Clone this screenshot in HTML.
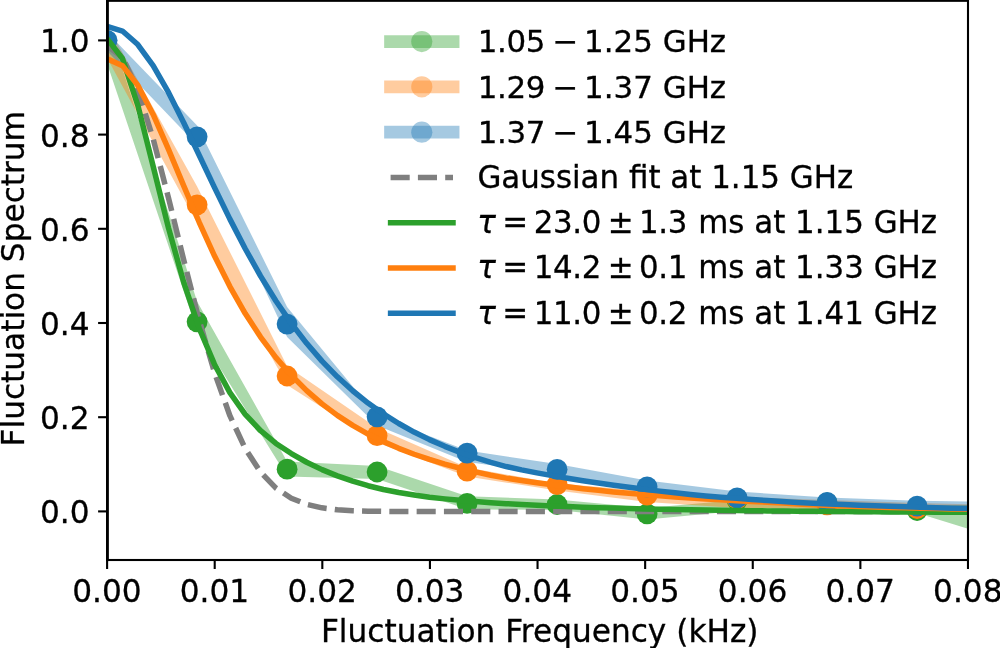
<!DOCTYPE html>
<html><head><meta charset="utf-8"><title>Fluctuation Spectrum</title>
<style>text{stroke:#000;stroke-width:0.3px}html,body{margin:0;padding:0;background:#fff;width:1000px;height:648px;overflow:hidden}</style></head>
<body>
<svg width="1000" height="648" viewBox="0 0 1000 648" style="display:block;position:absolute;left:0;top:0" font-family="'DejaVu Sans', 'Liberation Sans', sans-serif" font-size="31.4" fill="#000" stroke="none">
<rect width="1000" height="648" fill="#fff"/>
<defs><clipPath id="ax"><rect x="107.1" y="0.8" width="860.9" height="559.2"/></clipPath></defs>
<g clip-path="url(#ax)">
<polygon points="107.10,21.00 197.10,301.50 287.10,461.50 377.10,466.00 467.10,496.30 557.10,499.50 647.10,508.00 737.10,500.00 827.10,504.00 917.10,505.00 1007.10,505.00 1007.10,540.70 917.10,513.00 827.10,512.00 737.10,511.00 647.10,519.50 557.10,510.00 467.10,509.30 377.10,479.00 287.10,476.50 197.10,331.00 107.10,63.50" fill="#2ca02c" fill-opacity="0.4"/>
<polygon points="107.10,25.00 197.10,186.50 287.10,366.20 377.10,428.00 467.10,467.50 557.10,483.50 647.10,491.00 737.10,497.00 827.10,500.00 917.10,503.00 1007.10,505.00 1007.10,512.00 917.10,511.00 827.10,509.00 737.10,508.00 647.10,502.00 557.10,490.50 467.10,476.50 377.10,442.50 287.10,385.00 197.10,223.00 107.10,58.00" fill="#ff7f0e" fill-opacity="0.4"/>
<polygon points="107.10,32.30 197.10,125.50 287.10,307.00 377.10,416.00 467.10,450.50 557.10,464.00 647.10,480.50 737.10,491.50 827.10,497.50 917.10,500.80 1007.10,502.00 1007.10,510.00 917.10,508.00 827.10,505.00 737.10,501.00 647.10,492.00 557.10,474.00 467.10,462.00 377.10,425.50 287.10,337.00 197.10,145.00 107.10,51.00" fill="#1f77b4" fill-opacity="0.4"/>
<circle cx="197.1" cy="321.8" r="10.4" fill="#2ca02c"/>
<circle cx="287.1" cy="469.2" r="10.4" fill="#2ca02c"/>
<circle cx="377.1" cy="472.0" r="10.4" fill="#2ca02c"/>
<circle cx="467.1" cy="503.3" r="10.4" fill="#2ca02c"/>
<circle cx="557.1" cy="504.5" r="10.4" fill="#2ca02c"/>
<circle cx="647.1" cy="513.9" r="10.4" fill="#2ca02c"/>
<circle cx="737.1" cy="500.5" r="10.4" fill="#2ca02c"/>
<circle cx="827.1" cy="503.0" r="10.4" fill="#2ca02c"/>
<circle cx="917.1" cy="510.5" r="10.4" fill="#2ca02c"/>
<circle cx="197.1" cy="204.8" r="10.4" fill="#ff7f0e"/>
<circle cx="287.1" cy="376.0" r="10.4" fill="#ff7f0e"/>
<circle cx="377.1" cy="435.7" r="10.4" fill="#ff7f0e"/>
<circle cx="467.1" cy="471.2" r="10.4" fill="#ff7f0e"/>
<circle cx="557.1" cy="484.6" r="10.4" fill="#ff7f0e"/>
<circle cx="647.1" cy="495.2" r="10.4" fill="#ff7f0e"/>
<circle cx="737.1" cy="498.9" r="10.4" fill="#ff7f0e"/>
<circle cx="827.1" cy="504.8" r="10.4" fill="#ff7f0e"/>
<circle cx="917.1" cy="508.5" r="10.4" fill="#ff7f0e"/>
<circle cx="107.1" cy="40.3" r="10.4" fill="#1f77b4"/>
<circle cx="197.1" cy="136.8" r="10.4" fill="#1f77b4"/>
<circle cx="287.1" cy="324.1" r="10.4" fill="#1f77b4"/>
<circle cx="377.1" cy="416.8" r="10.4" fill="#1f77b4"/>
<circle cx="467.1" cy="453.2" r="10.4" fill="#1f77b4"/>
<circle cx="557.1" cy="469.4" r="10.4" fill="#1f77b4"/>
<circle cx="647.1" cy="486.8" r="10.4" fill="#1f77b4"/>
<circle cx="737.1" cy="497.8" r="10.4" fill="#1f77b4"/>
<circle cx="827.1" cy="502.4" r="10.4" fill="#1f77b4"/>
<circle cx="917.1" cy="506.2" r="10.4" fill="#1f77b4"/>
<polyline points="107.10,45.94 122.45,57.30 137.80,89.74 153.15,138.75 168.50,197.94 183.85,260.45 199.20,320.19 214.55,372.74 229.90,415.71 245.25,448.57 260.60,472.15 275.95,488.09 291.30,498.24 306.65,504.36 322.00,507.85 337.35,509.73 352.70,510.69 368.05,511.15 383.40,511.37 398.75,511.46 414.10,511.50 429.45,511.52 444.80,511.52 460.15,511.52 475.50,511.52 490.85,511.52 506.20,511.52 521.55,511.52 536.90,511.52 552.25,511.52 567.60,511.52 582.95,511.52 598.30,511.52 613.65,511.52 629.00,511.52 644.35,511.52 659.70,511.52 675.05,511.52 690.40,511.52 705.75,511.52 721.10,511.52 736.45,511.52 751.80,511.52 767.15,511.52 782.50,511.52 797.85,511.52 813.20,511.52 828.55,511.52 843.90,511.52 859.25,511.52 874.60,511.52 889.95,511.52 905.30,511.52 920.65,511.52 936.00,511.52 951.35,511.52 966.70,511.52 982.05,511.52" fill="none" stroke="#7f7f7f" stroke-width="5.5" stroke-dasharray="19.1 8.2" stroke-dashoffset="2" stroke-linejoin="round"/>
<polyline points="107.10,38.58 122.45,58.55 137.80,105.27 153.15,166.25 168.50,228.03 183.85,282.87 199.20,328.22 214.55,364.35 229.90,392.68 245.25,414.45 260.60,430.74 275.95,443.44 291.30,453.56 306.65,462.24 322.00,469.61 337.35,475.87 352.70,481.19 368.05,485.72 383.40,489.52 398.75,492.47 414.10,495.00 429.45,497.19 444.80,498.88 460.15,500.33 475.50,501.58 490.85,502.67 506.20,503.65 521.55,504.52 536.90,505.30 552.25,506.00 567.60,506.61 582.95,507.17 598.30,507.66 613.65,508.11 629.00,508.52 644.35,508.88 659.70,509.22 675.05,509.52 690.40,509.80 705.75,510.05 721.10,510.29 736.45,510.50 751.80,510.70 767.15,510.88 782.50,511.05 797.85,511.20 813.20,511.35 828.55,511.48 843.90,511.61 859.25,511.72 874.60,511.83 889.95,511.93 905.30,512.03 920.65,512.12 936.00,512.20 951.35,512.28 966.70,512.35 982.05,512.42" fill="none" stroke="#2ca02c" stroke-width="5.5" stroke-linejoin="round"/>
<polyline points="107.10,58.73 122.45,65.67 137.80,85.29 153.15,114.48 168.50,149.31 183.85,186.15 199.20,222.29 214.55,256.03 229.90,286.52 245.25,313.52 260.60,337.12 275.95,357.60 291.30,375.32 306.65,390.63 322.00,403.87 337.35,415.34 352.70,425.32 368.05,434.02 383.40,441.64 398.75,448.33 414.10,454.23 429.45,459.45 444.80,464.09 460.15,468.22 475.50,471.92 490.85,475.24 506.20,478.12 521.55,480.56 536.90,482.74 552.25,484.79 567.60,486.81 582.95,488.66 598.30,490.35 613.65,491.90 629.00,493.32 644.35,494.63 659.70,495.84 675.05,496.96 690.40,498.00 705.75,498.97 721.10,499.86 736.45,500.70 751.80,501.47 767.15,502.20 782.50,503.05 797.85,503.89 813.20,504.69 828.55,505.46 843.90,506.00 859.25,506.50 874.60,506.97 889.95,507.41 905.30,507.83 920.65,508.22 936.00,508.60 951.35,508.95 966.70,509.29 982.05,509.61" fill="none" stroke="#ff7f0e" stroke-width="5.5" stroke-linejoin="round"/>
<polyline points="107.10,26.38 122.45,31.04 137.80,44.56 153.15,65.64 168.50,92.45 183.85,122.95 199.20,155.22 214.55,187.67 229.90,219.11 245.25,248.73 260.60,276.07 275.95,300.95 291.30,323.33 306.65,343.32 322.00,361.09 337.35,376.82 352.70,390.74 368.05,403.03 383.40,413.91 398.75,423.52 414.10,432.04 429.45,439.61 444.80,446.33 460.15,452.32 475.50,457.67 490.85,462.46 506.20,466.54 521.55,469.88 536.90,472.83 552.25,475.59 567.60,478.31 582.95,480.77 598.30,483.01 613.65,485.27 629.00,487.34 644.35,489.25 659.70,491.11 675.05,492.85 690.40,494.48 705.75,495.91 721.10,497.17 736.45,498.35 751.80,499.46 767.15,500.53 782.50,501.54 797.85,502.49 813.20,503.26 828.55,503.95 843.90,504.60 859.25,505.21 874.60,505.78 889.95,506.31 905.30,506.81 920.65,507.28 936.00,507.72 951.35,508.13 966.70,508.52 982.05,508.89" fill="none" stroke="#1f77b4" stroke-width="5.5" stroke-linejoin="round"/>
</g>
<rect x="107.1" y="0.8" width="860.9" height="559.2" fill="none" stroke="#000" stroke-width="2.1"/>
<rect x="106.05" y="0" width="2.8" height="561.05" fill="#000"/>
<line x1="107.10" y1="560.0" x2="107.10" y2="569.0" stroke="#000" stroke-width="2.1"/>
<text x="106.90" y="601.9" transform="matrix(1 0 0 1.022 0 -13.242)" text-anchor="middle" font-size="31.2">0.00</text>
<line x1="214.71" y1="560.0" x2="214.71" y2="569.0" stroke="#000" stroke-width="2.1"/>
<text x="214.51" y="601.9" transform="matrix(1 0 0 1.022 0 -13.242)" text-anchor="middle" font-size="31.2">0.01</text>
<line x1="322.32" y1="560.0" x2="322.32" y2="569.0" stroke="#000" stroke-width="2.1"/>
<text x="322.12" y="601.9" transform="matrix(1 0 0 1.022 0 -13.242)" text-anchor="middle" font-size="31.2">0.02</text>
<line x1="429.93" y1="560.0" x2="429.93" y2="569.0" stroke="#000" stroke-width="2.1"/>
<text x="429.73" y="601.9" transform="matrix(1 0 0 1.022 0 -13.242)" text-anchor="middle" font-size="31.2">0.03</text>
<line x1="537.54" y1="560.0" x2="537.54" y2="569.0" stroke="#000" stroke-width="2.1"/>
<text x="537.34" y="601.9" transform="matrix(1 0 0 1.022 0 -13.242)" text-anchor="middle" font-size="31.2">0.04</text>
<line x1="645.15" y1="560.0" x2="645.15" y2="569.0" stroke="#000" stroke-width="2.1"/>
<text x="644.95" y="601.9" transform="matrix(1 0 0 1.022 0 -13.242)" text-anchor="middle" font-size="31.2">0.05</text>
<line x1="752.76" y1="560.0" x2="752.76" y2="569.0" stroke="#000" stroke-width="2.1"/>
<text x="752.56" y="601.9" transform="matrix(1 0 0 1.022 0 -13.242)" text-anchor="middle" font-size="31.2">0.06</text>
<line x1="860.37" y1="560.0" x2="860.37" y2="569.0" stroke="#000" stroke-width="2.1"/>
<text x="860.17" y="601.9" transform="matrix(1 0 0 1.022 0 -13.242)" text-anchor="middle" font-size="31.2">0.07</text>
<line x1="967.98" y1="560.0" x2="967.98" y2="569.0" stroke="#000" stroke-width="2.1"/>
<text x="967.78" y="601.9" transform="matrix(1 0 0 1.022 0 -13.242)" text-anchor="middle" font-size="31.2">0.08</text>
<line x1="107.1" y1="511.40" x2="98.1" y2="511.40" stroke="#000" stroke-width="2.1"/>
<text x="89.6" y="523.50" transform="matrix(1 0 0 1.022 0 -11.517)" text-anchor="end" font-size="31.2">0.0</text>
<line x1="107.1" y1="417.20" x2="98.1" y2="417.20" stroke="#000" stroke-width="2.1"/>
<text x="89.6" y="429.30" transform="matrix(1 0 0 1.022 0 -9.445)" text-anchor="end" font-size="31.2">0.2</text>
<line x1="107.1" y1="323.00" x2="98.1" y2="323.00" stroke="#000" stroke-width="2.1"/>
<text x="89.6" y="335.10" transform="matrix(1 0 0 1.022 0 -7.372)" text-anchor="end" font-size="31.2">0.4</text>
<line x1="107.1" y1="228.80" x2="98.1" y2="228.80" stroke="#000" stroke-width="2.1"/>
<text x="89.6" y="240.90" transform="matrix(1 0 0 1.022 0 -5.300)" text-anchor="end" font-size="31.2">0.6</text>
<line x1="107.1" y1="134.60" x2="98.1" y2="134.60" stroke="#000" stroke-width="2.1"/>
<text x="89.6" y="146.70" transform="matrix(1 0 0 1.022 0 -3.227)" text-anchor="end" font-size="31.2">0.8</text>
<line x1="107.1" y1="40.40" x2="98.1" y2="40.40" stroke="#000" stroke-width="2.1"/>
<text x="89.6" y="52.50" transform="matrix(1 0 0 1.022 0 -1.155)" text-anchor="end" font-size="31.2">1.0</text>
<text x="539.7" y="641.9" text-anchor="middle" font-size="31.2">Fluctuation Frequency (kHz)</text>
<text transform="translate(24.0,278.7) rotate(-90)" text-anchor="middle" font-size="31.2">Fluctuation Spectrum</text>
<line x1="390.6" y1="41.60" x2="453.0" y2="41.60" stroke="#2ca02c" stroke-opacity="0.4" stroke-width="12.9" stroke-linecap="square"/>
<circle cx="421.8" cy="41.60" r="10.6" fill="#2ca02c" fill-opacity="0.4"/>
<line x1="390.6" y1="86.87" x2="453.0" y2="86.87" stroke="#ff7f0e" stroke-opacity="0.4" stroke-width="12.9" stroke-linecap="square"/>
<circle cx="421.8" cy="86.87" r="10.6" fill="#ff7f0e" fill-opacity="0.4"/>
<line x1="390.6" y1="132.14" x2="453.0" y2="132.14" stroke="#1f77b4" stroke-opacity="0.4" stroke-width="12.9" stroke-linecap="square"/>
<circle cx="421.8" cy="132.14" r="10.6" fill="#1f77b4" fill-opacity="0.4"/>
<line x1="390.6" y1="177.41" x2="453.0" y2="177.41" stroke="#7f7f7f" stroke-width="5.5" stroke-dasharray="19.1 8.2"/>
<line x1="390.6" y1="222.68" x2="453.0" y2="222.68" stroke="#2ca02c" stroke-width="5.5" stroke-linecap="square"/>
<line x1="390.6" y1="267.95" x2="453.0" y2="267.95" stroke="#ff7f0e" stroke-width="5.5" stroke-linecap="square"/>
<line x1="390.6" y1="313.22" x2="453.0" y2="313.22" stroke="#1f77b4" stroke-width="5.5" stroke-linecap="square"/>
<text y="52.2" font-size="30.9"><tspan x="477.7" letter-spacing="-0.35">1.05</tspan><tspan x="552.4">−</tspan><tspan x="584.1">1.25 GHz</tspan></text>
<text y="97.5" font-size="30.9"><tspan x="477.7" letter-spacing="-0.35">1.29</tspan><tspan x="552.4">−</tspan><tspan x="584.1">1.37 GHz</tspan></text>
<text y="142.9" font-size="30.9"><tspan x="477.7" letter-spacing="-0.35">1.37</tspan><tspan x="552.4">−</tspan><tspan x="584.1">1.45 GHz</tspan></text>
<text x="477.4" y="188.2" transform="matrix(1 0 0 1.022 0 -4.140)" font-size="30.9">Gaussian fit at 1.15 GHz</text>
<text y="233.2" transform="matrix(1 0 0 1.022 0 -5.131)" font-size="30.9"><tspan x="477.2" font-style="italic">τ</tspan><tspan x="502.3">=</tspan><tspan x="533.8" letter-spacing="-0.4">23.0</tspan><tspan x="607.8">±</tspan><tspan x="638.9" letter-spacing="-0.3">1.3</tspan><tspan x="698.2">ms at 1.15 GHz</tspan></text>
<text y="278.5" transform="matrix(1 0 0 1.022 0 -6.128)" font-size="30.9"><tspan x="477.2" font-style="italic">τ</tspan><tspan x="502.3">=</tspan><tspan x="533.8" letter-spacing="-0.4">14.2</tspan><tspan x="607.8">±</tspan><tspan x="638.9" letter-spacing="-0.3">0.1</tspan><tspan x="698.2">ms at 1.33 GHz</tspan></text>
<text y="323.9" transform="matrix(1 0 0 1.022 0 -7.125)" font-size="30.9"><tspan x="477.2" font-style="italic">τ</tspan><tspan x="502.3">=</tspan><tspan x="533.8" letter-spacing="-0.4">11.0</tspan><tspan x="607.8">±</tspan><tspan x="638.9" letter-spacing="-0.3">0.2</tspan><tspan x="698.2">ms at 1.41 GHz</tspan></text>
</svg>
</body></html>
